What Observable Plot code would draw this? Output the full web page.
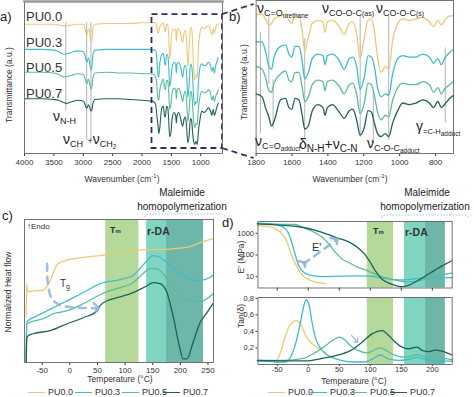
<!DOCTYPE html>
<html><head><meta charset="utf-8">
<script src="https://cdn.jsdelivr.net/npm/d3@7"></script>
<script src="https://cdn.jsdelivr.net/npm/@observablehq/plot@0.6"></script>
<style>
html,body{margin:0;padding:0;background:#fff;}
#fig{position:relative;width:474px;height:397px;overflow:hidden;font-family:"Liberation Sans",Arial,sans-serif;color:#333;}
.t{position:absolute;white-space:nowrap;line-height:1;color:#222;}
.nu{font-size:14px;}
.s1{font-size:9px;position:relative;top:3px;}
.s2{font-size:6.5px;position:relative;top:2px;}
.lg{position:absolute;display:flex;align-items:center;font-size:9px;color:#333;white-space:nowrap;}
.lg span.l{display:inline-block;width:17px;border-top:1.5px solid;margin-right:3px;}
</style></head><body><div id="fig"></div>
<script>
const series = ["PU0.0", "PU0.3", "PU0.5", "PU0.7"];
const colors = ["#efc777", "#3dbccd", "#58bc9e", "#1e6158"];

// ---- FTIR, panel a: high wavenumber region (transmittance a.u.)
const ftirHighW = [4000,3700,3500,3420,3330,3290,3200,3100,3000,2975,2950,2935,2915,2895,2870,2855,2835,2800,2600,2400,2200,2000,1850];
const ftirHigh00 = [90,90,90,89.5,89,89,89.5,90,90,88,84,83,87,86,78,79,88,90,90.5,90.5,90.5,91,91];
const ftirHigh03 = [73.5,73.5,73,72,70.5,70.5,71.5,72.5,72,70,66,65,68,66,60,61,70,73,73.5,73.5,73.5,73.5,73.5];
const ftirHigh05 = [58.5,58.5,58,57,55.5,55.5,56.5,57.5,57,55,52,51,54,52,47.5,48.5,55,58,58.5,58,58,57.5,57.5];
const ftirHigh07 = [41,41,40.5,40,38.5,38,39,40,39.5,38,35,35,37,36,33,33.5,38,40.5,41,41,40.5,40,39.5];

// ---- FTIR fingerprint region (panels a and b)
const ftirW = [1800,1766,1748,1729,1714,1700,1664,1636,1617,1602,1582,1561,1543,1529,1509,1487,1456,1427,1416,1403,1375,1337,1309,1281,1261,1240,1220,1197,1176,1157,1141,1123,1104,1080,1061,1039,1011,983,946,909,871,834,811,787,768,750,722,700];
const ftir00 = [91,91,88,84,85,88,90,91,87,85,90,90,80,67,76,85,87,86,79,86,87,83,78,85,86,78,62,76,87,88,80,63,53,57,55,74,85,88,87,88,89,86,83,87,84,87,90,90];
const ftir03 = [73,73,67,57,55,63,70,71,65,63,70,70,60,49,53,62,65,64,58,64,65,61,55,62,63,57,42,50,64,63,57,43,37,39,38,52,62,64,63,63,65,63,59,62,58,62,66,68];
const ftir05 = [57,55,50,41,40,46,52,54,48,47,53,53,43,34,37,45,48,47,41,47,48,44,39,45,46,39,26,33,46,45,38,27,22,25,24,35,43,46,45,45,47,45,40,43,39,42,45,47];
const ftir07 = [39,37,30,24,18,21,35,36,30,29,36,35,25,16,18,28,32,30,25,30,32,27,23,28,29,22,12,17,28,27,20,13,11,13,11,20,28,33,32,33,35,33,30,34,30,32,36,38];

// reference lines (wavenumber, from, to)
const refAw = [3297, 2942, 2869];
const refAy1 = [33, 13.6, 13.6];
const refAy2 = [91, 91, 91];
const refBw = [1776, 1729, 1705, 1529, 1220, 1147, 1061, 746];
const refBy1 = [13, 45, 16, 8.5, 10.5, 6.5, 8.5, 20];
const refBy2 = [79, 90, 48, 75, 90, 41, 90, 69];

// ---- DSC (panel c)
const dsc00T = [-78.9,-78.2,-76.5,-73.5,-62.7,-50,-42.8,-35.5,-28.3,-21.1,-8.4,9.6,36.7,54.8,72.9,91,114.5,139.8,163.3,190.4,217.5,235.5,259];
const dsc00H = [32,55,50,49.5,50.2,50.2,52.3,57.3,64.3,69.2,71.3,72.7,74.1,74.8,76.2,76.9,78.3,79,79,79.7,81.1,83.9,86.5];
const dsc03T = [-78.9,-78,-73.5,-62.7,-48.2,-30.1,-4.7,24.1,54.8,91,114.5,127.1,139.8,150.6,163.3,175.9,194,217.5,235.5,253.6,259];
const dsc03H = [0.5,27.8,29.9,32,34.8,38.3,43.2,48.8,55.1,58,60.8,65.7,71.3,74.8,73.4,69.9,64.3,58,57.3,59.4,61];
const dsc05T = [-78.9,-78,-73.5,-62.7,-48.2,-30.1,-4.7,24.1,54.8,67.5,91,114.5,132.5,145.2,157.8,168.7,186.7,204.8,222.9,241,259];
const dsc05H = [0.5,27.1,27.8,29.2,30.6,34.1,36.2,41.1,47.4,49.5,52.3,55.8,62.2,65.7,65.7,62.2,52.3,44.6,42.5,43.2,48.1];
const dsc07T = [-78.9,-77.7,-75.3,-66.3,-35.5,-4.7,24.1,49.4,54.8,67.5,85.5,114.5,139.8,150.6,163.3,175.9,186.7,199.4,204.8,212,222.9,235.5,248.2,259];
const dsc07H = [0.5,17.3,18.7,20.1,22.3,27.1,31.3,36.2,39.7,43.2,45.3,48.8,53.7,55.8,55.1,48.8,32.7,9.6,2.6,2.6,13.8,27.8,34.8,41.1];
const tgArrowT = [-41, -40, -33, -20, 6, 48];
const tgArrowH = [69, 56, 45, 40.5, 38.5, 38];

// temperature bands
const bandNames = ["Tm", "r-DA", "homopolymerization"];
const bandColors = ["#b5d99b", "#80d5c1", "#6db7aa"];
const dscBandStart = [65, 139, 175];
const dscBandEnd = [125, 175, 242];
const dmaBandStart = [95, 155, 189];
const dmaBandEnd = [137.5, 189, 221];

// ---- DMA E' (MPa)
const e00T = [-82,-63.5,-52.7,-42,-33.9,-28.6,-20.5,-12.5,-4.4,6.3,17,27.8];
const e00V = [2280,2050,1600,940,382,131,38,15.4,9,6.4,5.3,4.8];
const e03T = [-82,-60,-47.4,-36.6,-31.3,-25.9,-20.5,-15.2,-9.8,-1.7,8.9,22.4,50,80,100,120,140,152,165,190,232];
const e03V = [2900,2800,2300,1600,940,322,92,31.5,18.5,13,10.8,10.1,10.5,10.8,10.5,8.5,7.3,7,7.6,8.8,9];
const e05T = [-82,-20.5,-9.8,6.3,22.4,33.1,43.9,54.6,65.3,81.4,92.1,108.2,124.3,140.4,156.5,177.5,193.6,212.9,231.7];
const e05V = [2740,2540,1900,1240,653,322,131,65,45,26,20.6,13,9,7,5.7,6.3,8.7,12,14.4];
const e07T = [-82,-9.8,22.4,43.9,65.3,81.4,92.1,100.2,108.2,119,135.1,151.2,161.8,175.4,188.7,204.8,220.9,231.7];
const e07V = [2740,1900,1115,653,400,200,99,45,18.5,7.6,4.45,3.44,4,6.3,10.8,20.6,37.9,54];
const eArrowT = [-7.6, 43.9];
const eArrowV = [39, 458];

// ---- DMA tan(delta)
const t00T = [-55,-52.7,-44.7,-36.6,-30.2,-23.3,-19.4,-15,-9.8,-4.4,6.3,17,27.8,33];
const t00V = [0.02,0.03,0.146,0.35,0.47,0.52,0.53,0.51,0.45,0.35,0.25,0.195,0.146,0.11];
const t03T = [-82,-60,-44.7,-36.6,-28.6,-20.5,-12.5,-7.2,-3.3,0.9,5.2,10.5,17,25,38.5,54.6,70.7,90,105,116,128,145,160,175,190,210,232];
const t03V = [0.04,0.035,0.03,0.03,0.09,0.25,0.51,0.71,0.78,0.73,0.55,0.35,0.23,0.146,0.086,0.046,0.03,0.03,0.07,0.115,0.07,0.05,0.06,0.085,0.06,0.04,0.04];
const t05T = [-82,-40,-10,11.7,27.8,41.1,50.3,59.9,68,80,95,105,115,125,140,155,165,175,190,205,220,232];
const t05V = [0.05,0.05,0.07,0.146,0.227,0.30,0.33,0.29,0.227,0.17,0.14,0.17,0.205,0.17,0.11,0.09,0.1,0.12,0.09,0.08,0.07,0.06];
const t07T = [-82,-30,0,11.7,43.9,68,86.8,102.9,119,129.7,140.4,151.2,161.8,175.4,183.4,194,204.8,215.6,231.7];
const t07V = [0.05,0.045,0.045,0.058,0.106,0.167,0.27,0.37,0.41,0.35,0.27,0.21,0.19,0.21,0.17,0.155,0.175,0.163,0.115];
const tArrowT = [70, 78];
const tArrowV = [0.35, 0.28];

// ---------- helpers
const fig = document.getElementById("fig");
const pairs = (xs, ys) => xs.map((x, i) => ({x, y: ys[i]}));
const st = {background: "none", overflow: "visible", fontFamily: '"Liberation Sans", Arial, sans-serif', fontSize: "8px", color: "#333"};
function place(svg, left, top) {
  svg.style.position = "absolute"; svg.style.left = left + "px"; svg.style.top = top + "px";
  fig.appendChild(svg); return svg;
}
function txt(html, left, top, style = "") {
  const d = document.createElement("div"); d.className = "t"; d.innerHTML = html;
  d.style.cssText += `left:${left}px;top:${top}px;${style}`; fig.appendChild(d); return d;
}
const fmt = d => String(d);
const frame = () => Plot.frame({stroke: "#666", strokeWidth: 0.9});

// ---------- panel a
const highA = [ftirHigh00, ftirHigh03, ftirHigh05, ftirHigh07];
const fpAll = [ftir00, ftir03, ftir05, ftir07];
const aW = 240, aH = 176, aML = 24, aMR = 18, aMT = 1, aMB = 23;
const aXd = [4000, 630], aYd = [5, 105];
const boxA = [{x1: 1830, x2: 630, y1: 8.3, y2: 96.4}];
const plotA = Plot.plot({
  width: aW, height: aH, marginLeft: aML, marginRight: aMR, marginTop: aMT, marginBottom: aMB, style: st,
  x: {domain: aXd, ticks: [4000,3500,3000,2500,2000,1500,1000], tickFormat: fmt, tickSize: 3, tickPadding: 3, label: null},
  y: {domain: aYd, axis: null},
  marks: [
    Plot.ruleX(refAw.map((w, i) => ({w, y1: refAy1[i], y2: refAy2[i]})), {x: "w", y1: "y1", y2: "y2", stroke: "#aaa", strokeWidth: 0.9}),
    ...series.map((s, i) => Plot.line(pairs(ftirHighW, highA[i]).concat(pairs(ftirW, fpAll[i])), {x: "x", y: "y", stroke: colors[i], strokeWidth: 1.1, curve: "monotone-x"})),
    Plot.rect(boxA, {x1: "x1", x2: "x2", y1: "y1", y2: "y2", fill: "none", stroke: "#2b2f5e", strokeWidth: 1.8, strokeDasharray: "6,4"}),
    Plot.frame({stroke: "#666", strokeWidth: 0.9}),
    Plot.frame({anchor: "top", stroke: "#999", strokeWidth: 2.5})
  ]
});
place(plotA, 0, 0);

// ---------- panel b
const bLeft = 235, bW = 239, bH = 176, bML = 20.6, bMR = 21, bMT = 0, bMB = 23;
const plotB = Plot.plot({
  width: bW, height: bH, marginLeft: bML, marginRight: bMR, marginTop: bMT, marginBottom: bMB, style: st,
  x: {domain: [1800, 700], ticks: [1800,1600,1400,1200,1000,800], tickFormat: fmt, tickSize: 3, tickPadding: 3, label: null},
  y: {domain: [0, 100], axis: null},
  marks: [
    Plot.ruleX(refBw.map((w, i) => ({w, y1: refBy1[i], y2: refBy2[i]})), {x: "w", y1: "y1", y2: "y2", stroke: "#aaa", strokeWidth: 0.9}),
    ...series.map((s, i) => Plot.line(pairs(ftirW, fpAll[i]), {x: "x", y: "y", stroke: colors[i], strokeWidth: 1.3, curve: "monotone-x"})),
    frame()
  ]
});
place(plotB, bLeft, 0);

// ---------- panel c
const dscT = [dsc00T, dsc03T, dsc05T, dsc07T], dscH = [dsc00H, dsc03H, dsc05H, dsc07H];
const plotC = Plot.plot({
  width: 237, height: 185, marginLeft: 24, marginRight: 24, marginTop: 19, marginBottom: 23, style: st,
  x: {domain: [-82, 260], ticks: [-50,0,50,100,150,200,250], tickFormat: fmt, tickSize: 3, tickPadding: 2, label: null},
  y: {domain: [0, 100], axis: null},
  marks: [
    ...bandNames.map((b, i) => Plot.rect([{a: dscBandStart[i], b: dscBandEnd[i]}], {x1: "a", x2: "b", y1: 0, y2: 100, fill: bandColors[i]})),
    ...series.map((s, i) => Plot.line(pairs(dscT[i], dscH[i]), {x: "x", y: "y", stroke: colors[i], strokeWidth: 1.3, curve: "monotone-x"})),
    Plot.line(pairs(tgArrowT, tgArrowH), {x: "x", y: "y", stroke: "#8cb3dc", strokeOpacity: 0.85, strokeWidth: 2.5, strokeDasharray: "7,6", curve: "catmull-rom", markerEnd: "arrow"}),
    frame()
  ]
});
place(plotC, 0, 200);

// ---------- panel d (top: E')
const eT = [e00T, e03T, e05T, e07T], eV = [e00V, e03V, e05V, e07V];
const dXd = [-81, 232];
const plotD1 = Plot.plot({
  width: 239, height: 80, marginLeft: 22.5, marginRight: 22.3, marginTop: 6, marginBottom: 7.5,
  style: {...st, fontSize: "7.5px"},
  x: {domain: dXd, ticks: [-50,0,50,100,150,200], tickFormat: () => "", tickSize: 3, label: null},
  y: {type: "log", domain: [3, 3500], ticks: [10, 100, 1000], tickFormat: fmt, tickSize: 2, tickPadding: 2, label: null},
  marks: [
    ...bandNames.map((b, i) => Plot.rect([{a: dmaBandStart[i], b: dmaBandEnd[i]}], {x1: "a", x2: "b", y1: 3, y2: 3500, fill: bandColors[i]})),
    ...series.map((s, i) => Plot.line(pairs(eT[i], eV[i]), {x: "x", y: "y", stroke: colors[i], strokeWidth: 1.3, curve: "monotone-x"})),
    Plot.line(pairs(eArrowT, eArrowV), {x: "x", y: "y", stroke: "#8cb3dc", strokeOpacity: 0.9, strokeWidth: 2.5, strokeDasharray: "7,6", markerStart: "arrow", markerEnd: "arrow"}),
    frame()
  ]
});
place(plotD1, 235, 215);

// ---------- panel d (bottom: tan delta)
const tT = [t00T, t03T, t05T, t07T], tV = [t00V, t03V, t05V, t07V];
const plotD2 = Plot.plot({
  width: 239, height: 86, marginLeft: 22.5, marginRight: 22.3, marginTop: 6, marginBottom: 13,
  style: {...st, fontSize: "7.5px"},
  x: {domain: dXd, ticks: [-50,0,50,100,150,200], tickFormat: fmt, tickSize: 2, tickPadding: 0, label: null},
  y: {domain: [0, 0.81], ticks: [0.2,0.4,0.6,0.8], tickFormat: d => d.toFixed(1).replace(".", ","), tickSize: 2, tickPadding: 2, label: null},
  marks: [
    ...bandNames.map((b, i) => Plot.rect([{a: dmaBandStart[i], b: dmaBandEnd[i]}], {x1: "a", x2: "b", y1: 0, y2: 0.81, fill: bandColors[i]})),
    ...series.map((s, i) => Plot.line(pairs(tT[i], tV[i]), {x: "x", y: "y", stroke: colors[i], strokeWidth: 1.3, curve: "monotone-x"})),
    Plot.line(pairs(tArrowT, tArrowV), {x: "x", y: "y", stroke: "#8cb3dc", strokeOpacity: 0.9, strokeWidth: 1.3, markerEnd: "arrow"}),
    frame()
  ]
});
place(plotD2, 235, 291);

// ---------- overlay: connectors and brackets
const ov = d3.create("svg").attr("width", 474).attr("height", 397)
  .style("position", "absolute").style("left", "0px").style("top", "0px").style("pointer-events", "none");
const axA = d3.scaleLinear(aXd, [aML, aW - aMR]), ayA = d3.scaleLinear(aYd, [aH - aMB, aMT]);
const bx = axA(boxA[0].x2), byTop = ayA(boxA[0].y2), byBot = ayA(boxA[0].y1);
const bFrameX = bLeft + bML;
ov.append("path").attr("d", `M${bx},${byTop}L${bFrameX - 2},${4}M${bx},${byBot}L${bFrameX - 2},${158}`)
  .attr("stroke", "#2b2f5e").attr("stroke-width", 1.8).attr("stroke-dasharray", "6,4").attr("fill", "none");
for (const [x1, x2, y] of [[145, 225, 214], [382, 468, 215]]) {
  ov.append("path").attr("d", `M${x1},${y + 3}Q${x1},${y} ${x1 + 5},${y}L${x2 - 5},${y}Q${x2},${y} ${x2},${y + 3}`)
    .attr("stroke", "#9cc3e0").attr("stroke-width", 1).attr("stroke-dasharray", "1.5,1.5").attr("fill", "none");
}
fig.appendChild(ov.node());

// ---------- texts
const lab = "font-size:13px;color:#222;";
txt("a)", 0, 10, lab);
txt("b)", 229, 10, lab);
txt("c)", 2, 209, lab);
txt("d)", 222, 216, lab);

const pu = "font-size:13px;color:#333;";
txt("PU0.0", 26, 10, pu); txt("PU0.3", 26, 35.5, pu); txt("PU0.5", 26, 60.5, pu); txt("PU0.7", 26, 86.5, pu);
txt('<span class="nu">ν</span><span class="s1">N-H</span>', 53, 108);
txt('<span class="nu">ν</span><span class="s1">CH</span> <span style="font-size:9px">+</span><span class="nu">ν</span><span class="s1">CH<span class="s2">2</span></span>', 63, 131);

txt('<span class="nu">ν</span><span class="s1">C=O<span class="s2">urethane</span></span>', 257, 0);
txt('<span class="nu">ν</span><span class="s1">CO-O-C<span style="font-size:7px">(as)</span></span>', 322, 0);
txt('<span class="nu">ν</span><span class="s1">CO-O-C<span style="font-size:7px">(s)</span></span>', 376, 0);
txt('<span class="nu">ν</span><span class="s1">C=O<span class="s2">adduct</span></span>', 255, 133);
txt('<span class="nu">δ</span><span class="s1" style="font-size:10px">N-H</span><span class="nu">+ν</span><span class="s1" style="font-size:10px">C-N</span>', 299, 136);
txt('<span class="nu">ν</span><span class="s1">C-O-C<span class="s2">adduct</span></span>', 367, 135);
txt('<span class="nu">γ</span><span class="s1" style="font-size:7.5px">=C-H<span class="s2">adduct</span></span>', 416, 118);

const axl = "font-size:8.5px;color:#333;transform:translate(-50%,-50%);";
const axr = "font-size:8.5px;color:#333;transform:translate(-50%,-50%) rotate(-90deg);";
txt("Transmittance (a.u.)", 9, 85, axr);
txt("Transmittance (a.u.)", 244, 82, axr);
txt("Wavenumber (cm<sup style='font-size:6px'>-1</sup>)", 122, 178, axl);
txt("Wavenumber (cm<sup style='font-size:6px'>-1</sup>)", 350, 178, axl);
txt("Normalized Heat flow", 8, 292, axr);
txt("Temperature (°C)", 120, 379, axl);
txt("Temperature (°C)", 354, 381, axl);
txt("E' (MPa)", 241, 257, axr);
txt("Tan(δ)", 241, 316, axr);

const hd = "font-size:10px;color:#222;transform:translateX(-50%);";
txt("Maleimide", 182, 188, hd); txt("homopolymerization", 182, 202, hd);
txt("Maleimide", 427, 188, hd); txt("homopolymerization", 425, 202, hd);

txt("↑Endo", 27, 223, "font-size:8px;color:#333;");
txt("T<span style='font-size:7px;position:relative;top:2px'>g</span>", 60, 279, "font-size:10px;color:#333;");
txt("T<span style='font-size:6px'>m</span>", 110, 226, "font-size:9px;font-weight:bold;color:#333;");
txt("r-DA", 147, 226, "font-size:10.5px;font-weight:bold;color:#333;");
txt("T<span style='font-size:6px'>m</span>", 373, 227, "font-size:9px;font-weight:bold;color:#333;");
txt("r-DA", 405, 227, "font-size:10.5px;font-weight:bold;color:#333;");
txt("E'", 312, 242, "font-size:11px;color:#333;");

// legends
function legend(xs, y) {
  series.forEach((s, i) => {
    const d = document.createElement("div"); d.className = "lg";
    d.style.left = xs[i] + "px"; d.style.top = (y - 5) + "px"; d.style.height = "10px";
    d.innerHTML = `<span class="l" style="border-color:${colors[i]}"></span>${s}`;
    fig.appendChild(d);
  });
}
legend([28, 75, 122, 163], 392);
legend([268, 310, 350, 390], 392);
</script></body></html>
